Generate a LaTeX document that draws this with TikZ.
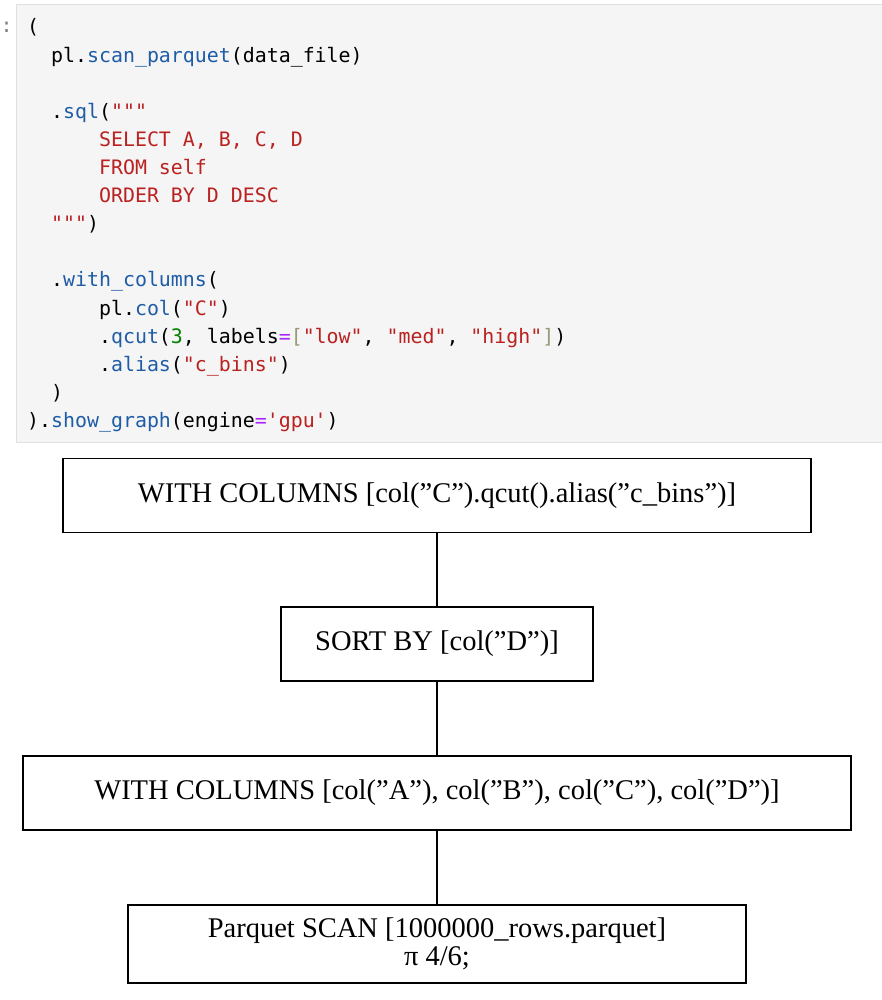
\documentclass[tikz,border=0pt]{standalone}
\usepackage{fontspec}
\setmainfont{Liberation Serif}[Ligatures=ResetAll]
\setmonofont{DejaVu Sans Mono}
\definecolor{cbg}{HTML}{F5F5F5}
\definecolor{cbd}{HTML}{E0E0E0}
\definecolor{kb}{HTML}{1F5CA6}
\definecolor{kr}{HTML}{BA2121}
\definecolor{kg}{HTML}{008000}
\definecolor{kp}{HTML}{AA22FF}
\definecolor{kk}{HTML}{999977}
\newcommand{\B}[1]{\textcolor{kb}{#1}}
\newcommand{\R}[1]{\textcolor{kr}{#1}}
\newcommand{\q}{\symbol{34}}
\begin{document}
\begin{tikzpicture}[x=1pt,y=-1pt,
  code/.style={anchor=base west,inner sep=0pt,font=\fontsize{19.9}{24}\ttfamily},
  plan/.style={draw,line width=1.3pt,minimum height=74pt,font=\fontsize{28.5}{31}\selectfont,align=center,inner sep=0pt},
  edge/.style={line width=1.3pt}]
\useasboundingbox (0,0) rectangle (882,1000);
\fill[white] (0,0) rectangle (882,1000);
\draw[cbd,fill=cbg,line width=1pt] (16,5) rectangle (890,442);
\node[text=gray,font=\fontsize{20}{24}\ttfamily,inner sep=0pt,anchor=west] (colon) at (0.5,27) {:};
\foreach \i/\t in {
 1/{(},
 2/{\ \ pl.\B{scan\_parquet}(data\_file)},
 4/{\ \ .\B{sql}(\R{"""}},
 5/{\ \ \ \ \ \ \R{SELECT A, B, C, D}},
 6/{\ \ \ \ \ \ \R{FROM self}},
 7/{\ \ \ \ \ \ \R{ORDER BY D DESC}},
 8/{\ \ \R{"""})},
 10/{\ \ .\B{with\_columns}(},
 11/{\ \ \ \ \ \ pl.\B{col}(\R{"C"})},
 12/{\ \ \ \ \ \ .\B{qcut}(\textcolor{kg}{3}, labels\textcolor{kp}{=}\textcolor{kk}{[}\R{"low"}, \R{"med"}, \R{"high"}\textcolor{kk}{]})},
 13/{\ \ \ \ \ \ .\B{alias}(\R{"c\_bins"})},
 14/{\ \ )},
 15/{).\B{show\_graph}(engine\textcolor{kp}{=}\R{'gpu'})}}
  \node[code] (l\i) at (27,{34+(\i-1)*28.1}) {\t};
\node[plan,minimum width=748pt] (n1) at (437,495.5) {WITH COLUMNS [col(\q C\q).qcut().alias(\q c\_bins\q)]};
\node[plan,minimum width=312pt] (n2) at (437,644) {SORT BY [col(\q D\q)]};
\node[plan,minimum width=828pt] (n3) at (437,793) {WITH COLUMNS [col(\q A\q), col(\q B\q), col(\q C\q), col(\q D\q)]};
\node[plan,minimum width=618pt,minimum height=78pt,font=\fontsize{28.5}{28}\selectfont] (n4) at (437,944) {Parquet SCAN [1000000\_rows.parquet]\\π 4/6;};
\draw[edge] (n1) -- (n2);
\draw[edge] (n2) -- (n3);
\draw[edge] (n3) -- (n4);
\end{tikzpicture}
\end{document}
